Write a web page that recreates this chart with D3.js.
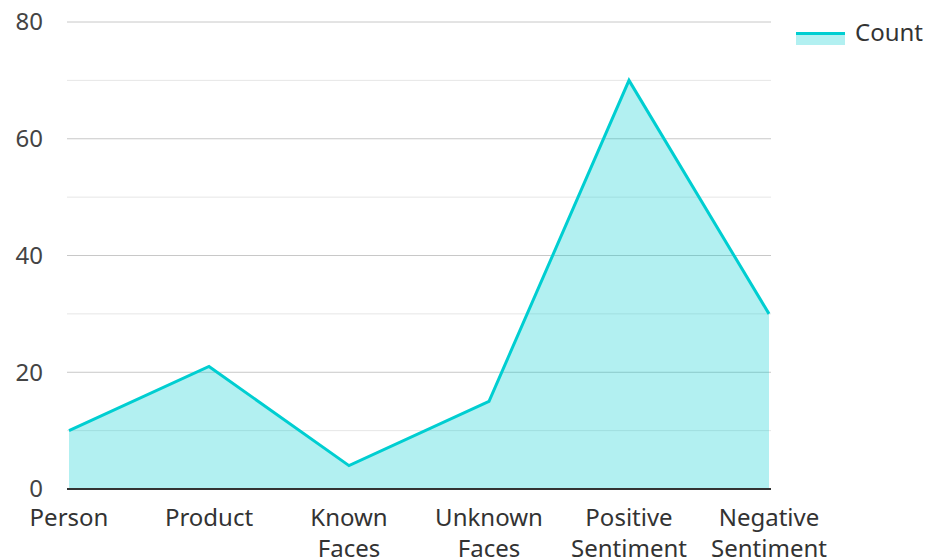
<!DOCTYPE html>
<html><head><meta charset="utf-8">
<script src="https://cdn.jsdelivr.net/npm/d3@7"></script>
<style>body{margin:0;background:#fff}svg{display:block;font-family:"Noto Sans","Open Sans",sans-serif}</style>
</head><body><svg id="c" width="928" height="560"></svg>
<script>
const categories = [["Person"],["Product"],["Known","Faces"],["Unknown","Faces"],["Positive","Sentiment"],["Negative","Sentiment"]];
const counts = [10, 21, 4, 15, 70, 30];
const yTicks = [0, 20, 40, 60, 80];
const minorTicks = [10, 30, 50, 70];
const seriesName = "Count";

const svg = d3.select("#c");
const x = d3.scalePoint().domain(d3.range(categories.length)).range([69, 769]);
const y = d3.scaleLinear().domain([0, 80]).range([489, 22]);
const stroke = "#00CED1";

// grid
svg.append("g").selectAll("line").data(minorTicks).join("line")
  .attr("x1", 67).attr("x2", 771).attr("y1", d => y(d)).attr("y2", d => y(d))
  .attr("stroke", "#e6e6e6").attr("stroke-width", 1);
svg.append("g").selectAll("line").data(yTicks.filter(d => d > 0)).join("line")
  .attr("x1", 67).attr("x2", 771).attr("y1", d => y(d)).attr("y2", d => y(d))
  .attr("stroke", "#c8c8c8").attr("stroke-width", 1);

// area
const area = d3.area().x((d, i) => x(i)).y0(y(0)).y1(d => y(d));
svg.append("path").datum(counts).attr("d", area).attr("fill", stroke).attr("fill-opacity", 0.3);
const line = d3.line().x((d, i) => x(i)).y(d => y(d));
svg.append("path").datum(counts).attr("d", line).attr("fill", "none").attr("stroke", stroke).attr("stroke-width", 3).attr("stroke-linejoin", "miter");

// baseline
svg.append("line").attr("x1", 67).attr("x2", 771).attr("y1", y(0)).attr("y2", y(0)).attr("stroke", "#333").attr("stroke-width", 2);

// y labels
svg.append("g").selectAll("text").data(yTicks).join("text")
  .attr("x", 43).attr("y", d => y(d)).attr("dy", "0.35em").attr("text-anchor", "end")
  .attr("font-size", 24).attr("fill", "#444").text(d => d);

// x labels
const xl = svg.append("g").selectAll("text").data(categories).join("text")
  .attr("text-anchor", "middle").attr("font-size", 24).attr("fill", "#333");
xl.each(function(d, i) {
  d3.select(this).selectAll("tspan").data(d).join("tspan")
    .attr("x", x(i)).attr("y", (t, j) => 526 + j * 31).text(t => t);
});

// legend
const lg = svg.append("g");
lg.append("rect").attr("x", 796).attr("y", 33).attr("width", 49).attr("height", 12).attr("fill", stroke).attr("fill-opacity", 0.3);
lg.append("line").attr("x1", 796).attr("x2", 845).attr("y1", 33.5).attr("y2", 33.5).attr("stroke", stroke).attr("stroke-width", 3);
lg.append("text").attr("x", 855).attr("y", 33).attr("dy", "0.35em").attr("font-size", 24).attr("fill", "#333").text(seriesName);
</script></body></html>
